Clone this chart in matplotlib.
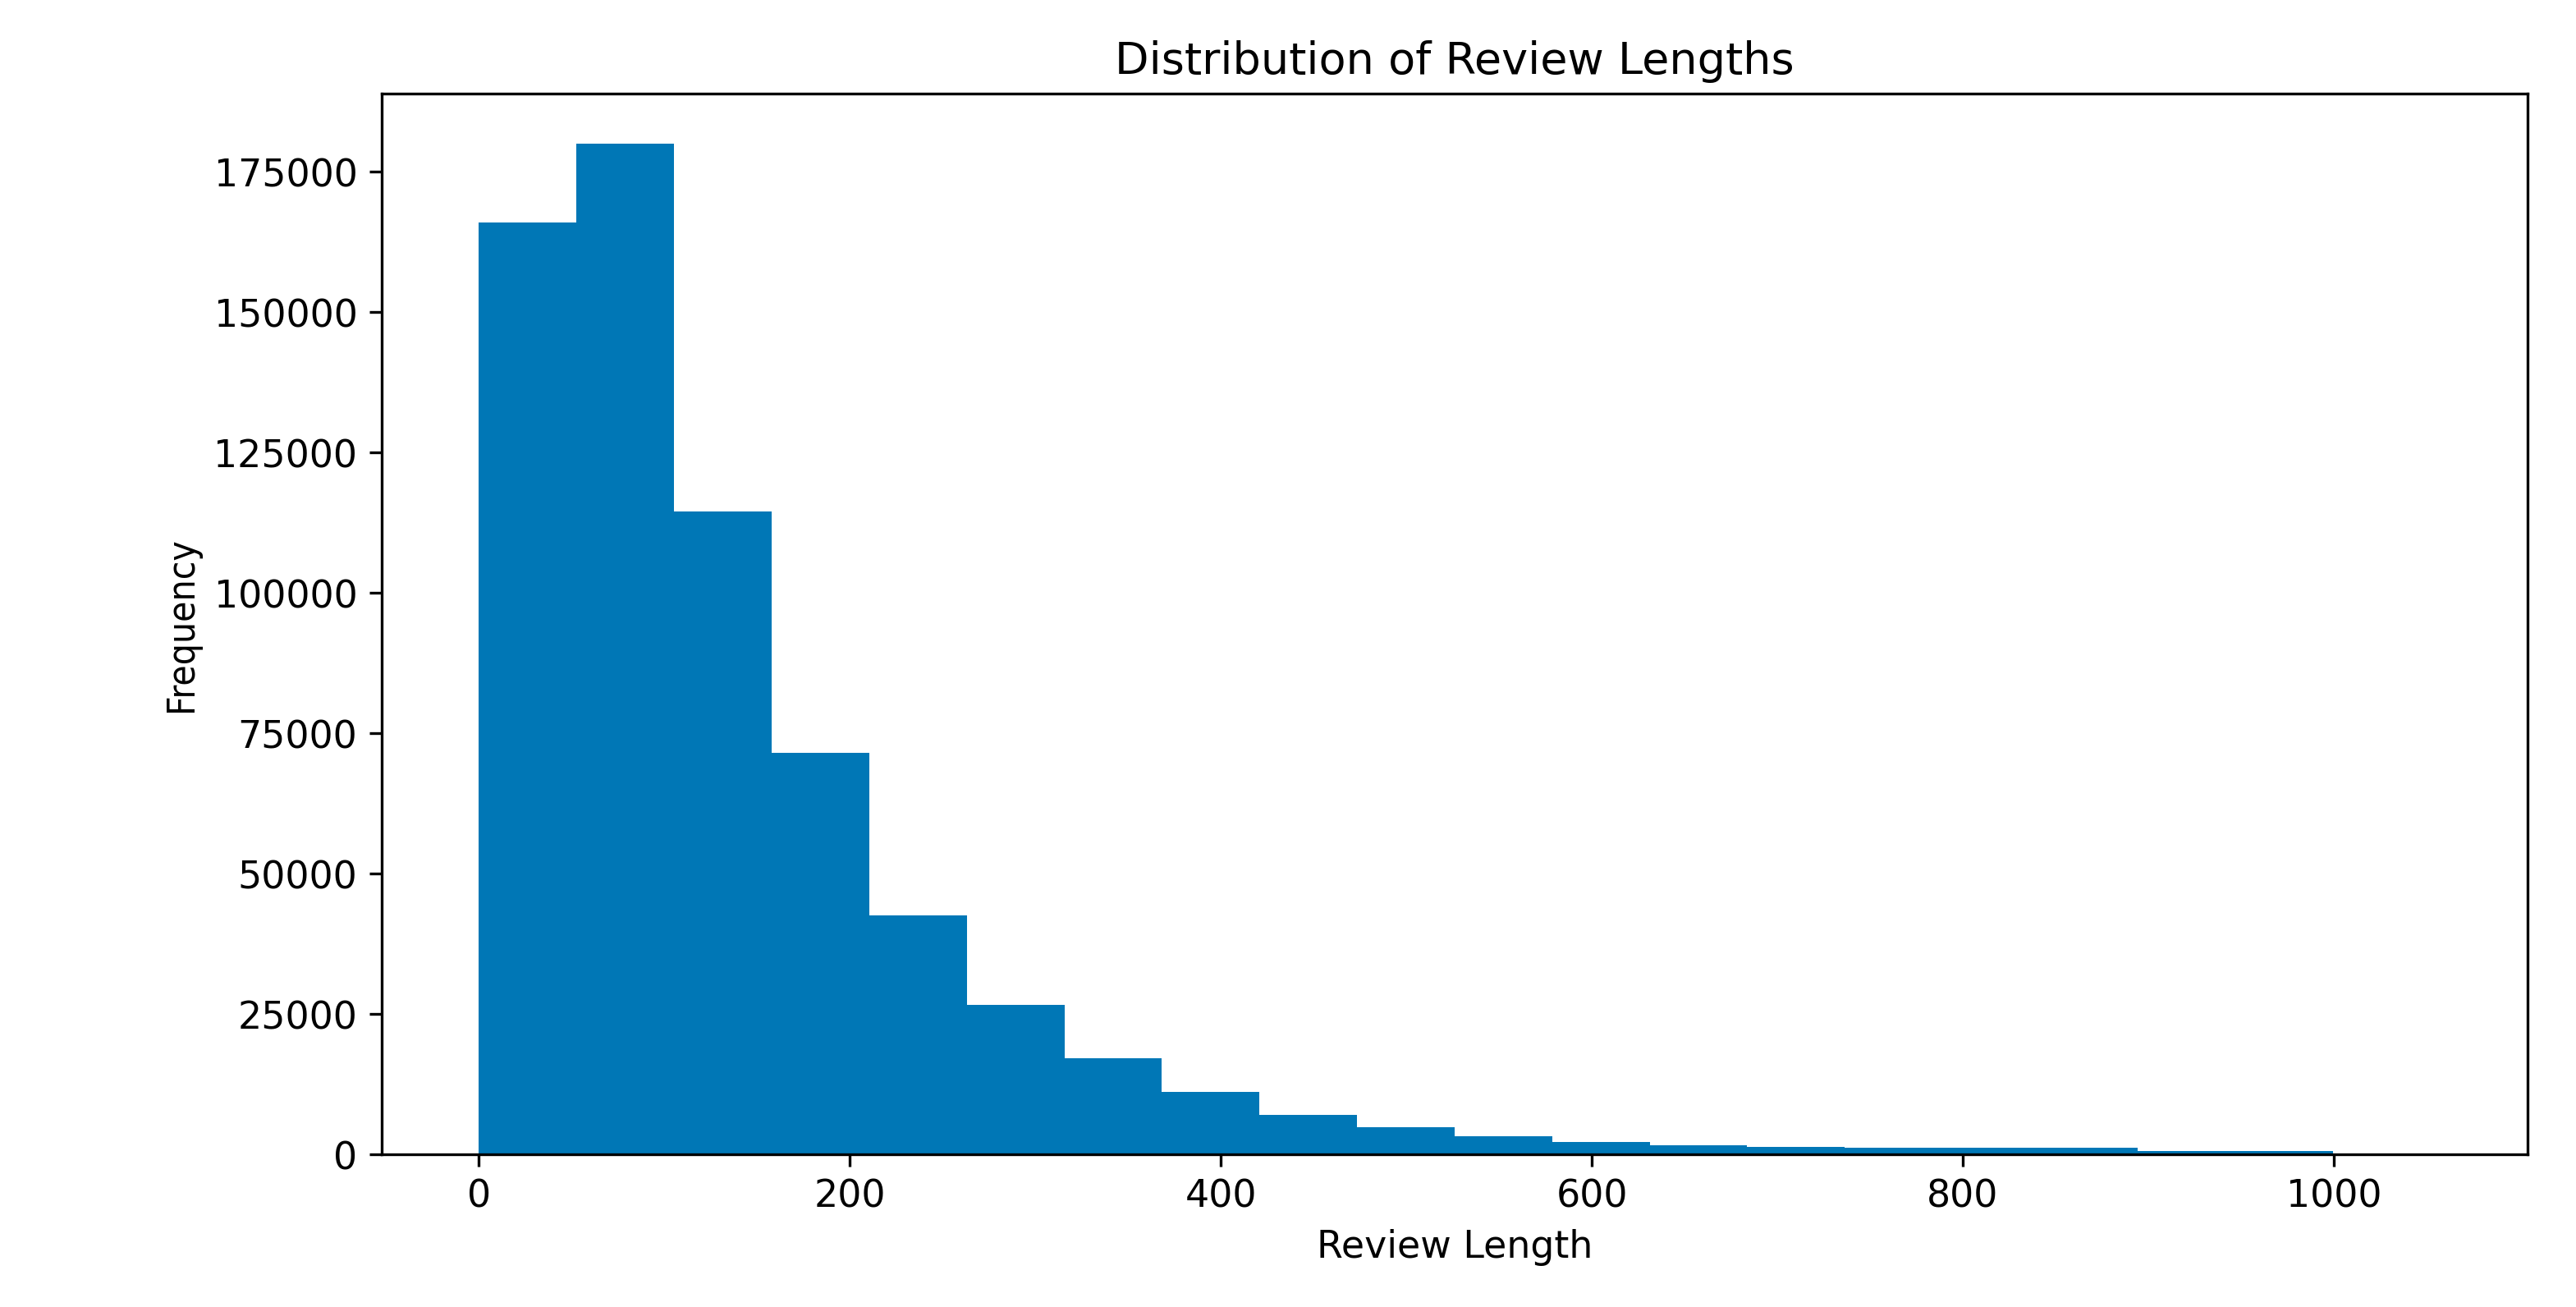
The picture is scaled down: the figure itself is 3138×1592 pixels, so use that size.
import numpy as np
import matplotlib
matplotlib.use("Agg")
import matplotlib.pyplot as plt

# Histogram bins (20 equal bins from 0 to ~1052) and counts
BIN_MIN = 0
BIN_MAX = 1052
N_BINS = 20
counts = [166000, 180000, 114500, 71500, 42500, 26500, 17000, 11000, 7000, 4800,
          3200, 2200, 1600, 1200, 1100, 1100, 1100, 600, 500, 100]

edges = np.linspace(BIN_MIN, BIN_MAX, N_BINS + 1)
widths = np.diff(edges)

fig = plt.figure(figsize=(10.463, 5.31), dpi=300)
ax = fig.add_axes([0.148, 0.117, 0.833, 0.811])
ax.bar(edges[:-1], counts, width=widths, align="edge", color="#0077b6")

ax.set_title("Distribution of Review Lengths", fontsize=13)
ax.set_xlabel("Review Length", fontsize=11)
ax.set_ylabel("Frequency", fontsize=11, fontstretch="condensed")
ax.tick_params(labelsize=11)

fig.savefig("out.png")
